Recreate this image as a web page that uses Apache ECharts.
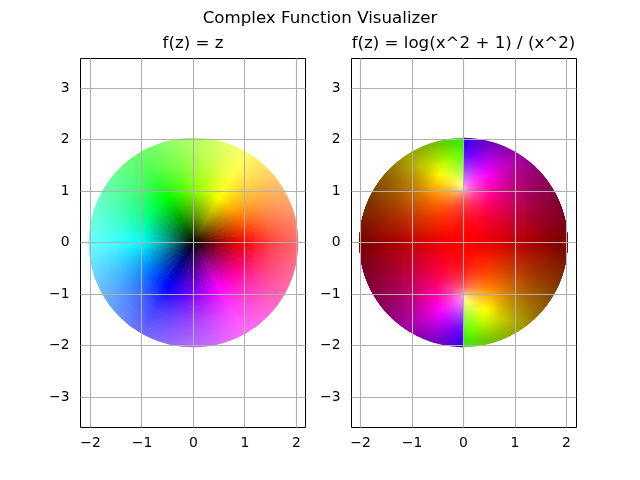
<!DOCTYPE html>
<html><head><meta charset="utf-8">
<style>html,body{margin:0;padding:0;background:#fff}#c{width:640px;height:480px}</style>
<script src="https://cdn.jsdelivr.net/npm/echarts@6/dist/echarts.min.js"></script>
</head><body><div id="c"></div>
<script>
const figureTitle = 'Complex Function Visualizer';
const panelTitles = ['f(z) = z', 'f(z) = log(x^2 + 1) / (x^2)'];
const xTicks = [-2, -1, 0, 1, 2];
const yTicks = [-3, -2, -1, 0, 1, 2, 3];
const discRadius = 2.033;

// left panel: colour read around the disc every 10 degrees, brightness read along a radius
const phaseColours = ['#ff0000','#ff2a00','#ff5500','#ff8000','#ffaa00','#ffd500','#ffff00','#d5ff00','#aaff00','#80ff00','#55ff00','#2aff00',
 '#00ff00','#00ff2a','#00ff55','#00ff80','#00ffaa','#00ffd5','#00ffff','#00d5ff','#00aaff','#0080ff','#0055ff','#002aff',
 '#0000ff','#2a00ff','#5500ff','#8000ff','#aa00ff','#d500ff','#ff00ff','#ff00d5','#ff00aa','#ff0080','#ff0055','#ff002a'];
const leftRadii = [0, 0.25, 0.5, 0.75, 1, 1.25, 1.5, 1.75, 2, 2.033];
const leftLightness = [0, 16, 30, 41, 50, 57, 63, 67, 70.5, 71];

// right panel: hue (degrees) and lightness (%) read for x >= 0, y > 0; other quadrants mirror the hue
const rightColumns = [0, 0.1, 0.25, 0.5, 0.75, 1, 1.25, 1.5, 1.75, 2];
const rightRows = [0.1, 0.3, 0.5, 0.7, 0.85, 0.95, 1.05, 1.15, 1.3, 1.5, 1.7, 1.9];
const rightHue = [
 [0,0,-1,-2,-3,-3,-3,-3,-3,-3],
 [0,-2,-5,-8,-10,-10,-10,-10,-9,-9],
 [0,-4,-8,-14,-16,-17,-16,-16,-15,-15],
 [0,-7,-15,-21,-24,-24,-23,-22,-21,-20],
 [0,-13,-23,-29,-30,-30,-29,-27,-26,-25],
 [0,-23,-32,-35,-35,-34,-32,-31,-29,-28],
 [-54,-43,-42,-41,-40,-38,-36,-34,-32,-31],
 [-70,-59,-52,-48,-45,-42,-40,-37,-35,-33],
 [-83,-78,-66,-58,-52,-48,-45,-42,-40,-38],
 [-94,-90,-79,-68,-62,-56,-52,-48,-45,-43],
 [-102,-97,-88,-77,-70,-64,-58,-54,-50,-47],
 [-107,-103,-95,-85,-77,-71,-65,-60,-55,-51]];
const rightLight = [
 [50,50,49,46,43,39,34,31,27,24],
 [52,51,51,47,43,39,34,31,27,24],
 [54,54,53,48,43,39,34,30,27,24],
 [60,59,56,50,44,39,34,30,27,24],
 [67,65,60,51,44,39,33,30,26,24],
 [77,71,62,52,44,38,33,30,26,23],
 [82,73,63,52,44,38,33,29,26,23],
 [76,71,62,51,43,37,32,29,25,23],
 [69,67,59,50,42,36,32,28,25,22],
 [60,59,54,47,40,35,31,27,24,21],
 [53,52,48,43,37,33,29,26,23,20],
 [47,46,43,39,35,31,28,24,22,19]];

const D = Math.PI / 180;
const font = 'DejaVu Sans';
const ringEdges = [0, 0.08, 0.16, 0.24, 0.32, 0.4, 0.5, 0.6, 0.7, 0.85, 1, 1.25, 1.5, 1.75, discRadius];
const columnCount = 210;

function wedgeItem(params, api) {
  const i = api.value(0), ring = api.value(1);
  const r0 = ringEdges[ring], r1 = ringEdges[ring + 1], rm = (r0 + r1) / 2;
  const a0 = i * 10 - 0.25, a1 = i * 10 + 10.25;
  const pt = (a, r) => api.coord([r * Math.cos(a * D), r * Math.sin(a * D)]);
  const pts = [];
  for (let k = 0; k <= 3; k++) pts.push(pt(a0 + (a1 - a0) * k / 3, r1));
  for (let k = 3; k >= 0; k--) pts.push(pt(a0 + (a1 - a0) * k / 3, Math.max(r0 - 0.01, 0)));
  const p0 = pt(i * 10, rm), p1 = pt(i * 10 + 10, rm);
  return { type: 'polygon', silent: true, shape: { points: pts }, style: {
    fill: { type: 'linear', global: true, x: p0[0], y: p0[1], x2: p1[0], y2: p1[1],
      colorStops: [{ offset: 0, color: phaseColours[i] }, { offset: 1, color: phaseColours[(i + 1) % 36] }] } } };
}

function shadeItem(params, api) {
  const c = api.coord([0, 0]);
  const r = api.coord([discRadius, 0])[0] - c[0];
  const stops = [];
  leftRadii.forEach((v, k) => {
    const L = leftLightness[k], off = v / discRadius;
    if (L <= 50) stops.push({ offset: off, color: 'rgba(0,0,0,' + (1 - L / 50) + ')' });
    if (L >= 50) stops.push({ offset: off, color: 'rgba(255,255,255,' + (L / 50 - 1) + ')' });
  });
  return { type: 'circle', silent: true, shape: { cx: c[0], cy: c[1], r: r }, style: {
    fill: { type: 'radial', global: true, x: c[0], y: c[1], r: r, colorStops: stops } } };
}

// shading between the read grid positions, per column of the disc, is left to gradients
function cellAt(table, row, ax) {
  const cols = rightColumns;
  let j = 0;
  while (j < cols.length - 2 && ax > cols[j + 1]) j++;
  const t = Math.min((ax - cols[j]) / (cols[j + 1] - cols[j]), 1);
  return table[row][j] + (table[row][j + 1] - table[row][j]) * t;
}

function columnItem(params, api) {
  const c = api.value(0), sy = api.value(1);
  const w = 2 * discRadius / columnCount;
  const x0 = -discRadius + c * w, x1 = x0 + w, xc = (x0 + x1) / 2;
  const ax = Math.abs(xc), sign = (xc > 0 ? 1 : -1) * sy;
  const top = Math.sqrt(Math.max(discRadius * discRadius - xc * xc, 0));
  const col = (h, l) => 'hsl(' + h + ',100%,' + l + '%)';
  const n = rightRows.length;
  const stops = [{ offset: 0, color: col(0, cellAt(rightLight, 0, ax)) }];
  for (let r = 0; r < n; r++) {
    stops.push({ offset: rightRows[r] / discRadius, color: col(sign * cellAt(rightHue, r, ax), cellAt(rightLight, r, ax)) });
  }
  stops.push({ offset: 1, color: col(sign * cellAt(rightHue, n - 1, ax), cellAt(rightLight, n - 1, ax)) });
  const a = api.coord([0, 0]), b = api.coord([0, sy * discRadius]);
  const px0 = Math.round(api.coord([x0, 0])[0]), px1 = Math.round(api.coord([x1, 0])[0]);
  const yTop = api.coord([xc, sy * top])[1];
  return { type: 'polygon', silent: true, shape: { points: [[px0, a[1]], [px1, a[1]], [px1, yTop], [px0, yTop]] }, style: {
    fill: { type: 'linear', global: true, x: 0, y: a[1], x2: 0, y2: b[1], colorStops: stops } } };
}

function gridLineItem(params, api) {
  const dir = api.value(0), v = api.value(1);
  const xr = api.value(2), xs = api.value(3), yr = api.value(4), ys = api.value(5);
  const p = dir === 0 ? api.coord([v, ys]) : api.coord([xs, v]);
  const q = dir === 0 ? api.coord([v, yr]) : api.coord([xr, v]);
  const sx = x => Math.floor(x) + 0.5;
  return { type: 'line', silent: true,
    shape: dir === 0 ? { x1: sx(p[0]), y1: p[1], x2: sx(p[0]), y2: q[1] } : { x1: p[0], y1: sx(p[1]), x2: q[0], y2: sx(p[1]) },
    style: { stroke: '#b0b0b0', lineWidth: 1.1 } };
}

const xRanges = [[-2.194, 2.175], [-2.175, 2.194]];
const yRange = [-3.592, 3.573];
const grids = [{ left: 80.5, top: 58.5, width: 225, height: 369 }, { left: 351.5, top: 58.5, width: 225, height: 369 }]
  .map(g => Object.assign(g, { show: true, borderColor: '#000', borderWidth: 1, backgroundColor: '#fff' }));

const labelFmt = v => String(v).replace('-', '\u2212');
const axisCommon = { type: 'value', axisLine: { show: false }, splitLine: { show: false } };
const xAxes = [0, 1].map(i => Object.assign({}, axisCommon, { gridIndex: i, position: 'bottom', min: xRanges[i][0], max: xRanges[i][1],
  axisTick: { show: true, length: 5, inside: false, customValues: xTicks, lineStyle: { color: '#000', width: 1 } },
  axisLabel: { show: true, customValues: xTicks, margin: 9, color: '#000', fontFamily: font, fontSize: 13.9, formatter: labelFmt } }));
const yAxes = [0, 1].map(i => Object.assign({}, axisCommon, { gridIndex: i, position: 'left', min: yRange[0], max: yRange[1],
  axisTick: { show: true, length: 5, inside: false, customValues: yTicks, lineStyle: { color: '#000', width: 1 } },
  axisLabel: { show: true, customValues: yTicks, margin: 11, color: '#000', fontFamily: font, fontSize: 13.9, formatter: labelFmt } }));

function gridData(i) {
  const xr = xRanges[i];
  return xTicks.map(v => [0, v, xr[1], xr[0], yRange[1], yRange[0]])
    .concat(yTicks.map(v => [1, v, xr[1], xr[0], yRange[1], yRange[0]]));
}
const wedgeData = [];
phaseColours.forEach((_, i) => { for (let r = 0; r < ringEdges.length - 1; r++) wedgeData.push([i, r]); });
const columnData = [];
for (let c = 0; c < columnCount; c++) { columnData.push([c, 1]); columnData.push([c, -1]); }

const common = { type: 'custom', clip: false, animation: false, silent: true, tooltip: { show: false },
  encode: { x: [], y: [] } };
const series = [
  Object.assign({}, common, { name: 'phase', xAxisIndex: 0, yAxisIndex: 0, z: 2, renderItem: wedgeItem, data: wedgeData }),
  Object.assign({}, common, { name: 'brightness', xAxisIndex: 0, yAxisIndex: 0, z: 3, renderItem: shadeItem, data: [[0]] }),
  Object.assign({}, common, { name: 'columns', xAxisIndex: 1, yAxisIndex: 1, z: 2, renderItem: columnItem, data: columnData }),
  Object.assign({}, common, { name: 'gridL', xAxisIndex: 0, yAxisIndex: 0, z: 4, renderItem: gridLineItem, data: gridData(0) }),
  Object.assign({}, common, { name: 'gridR', xAxisIndex: 1, yAxisIndex: 1, z: 4, renderItem: gridLineItem, data: gridData(1) })
];

const tStyle = { fontFamily: font, fontSize: 16.67, fontWeight: 'normal', color: '#000' };
const chart = echarts.init(document.getElementById('c'), null, { renderer: 'canvas', width: 640, height: 480 });
chart.setOption({
  animation: false,
  backgroundColor: '#fff',
  title: [
    { text: figureTitle, left: 320, top: 10.5, textAlign: 'center', textStyle: tStyle, padding: 0 },
    { text: panelTitles[0], left: 193, top: 35.5, textAlign: 'center', textStyle: tStyle, padding: 0 },
    { text: panelTitles[1], left: 463.5, top: 35.5, textAlign: 'center', textStyle: tStyle, padding: 0 }
  ],
  grid: grids, xAxis: xAxes, yAxis: yAxes, series: series
});
</script></body></html>
